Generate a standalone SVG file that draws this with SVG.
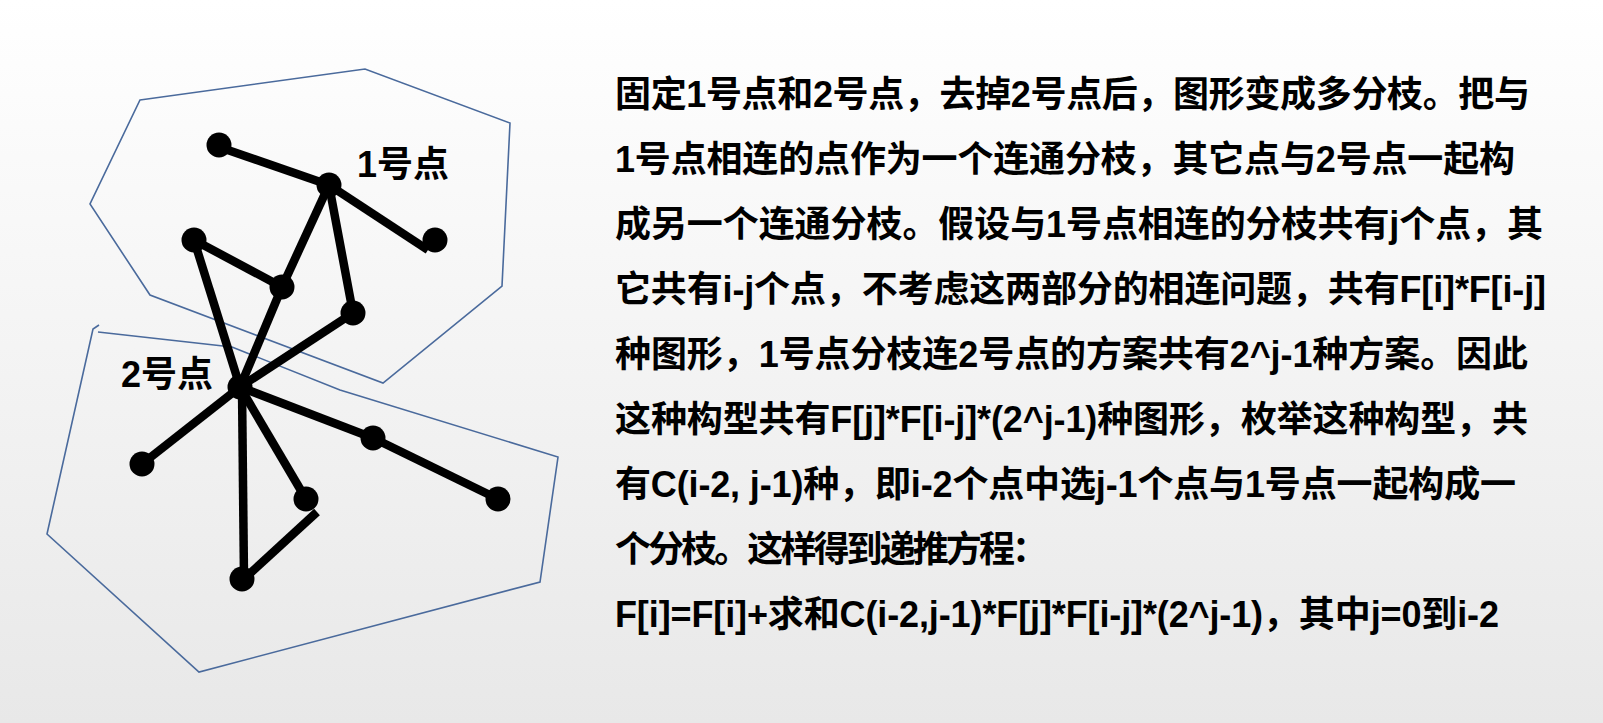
<svg xmlns="http://www.w3.org/2000/svg" width="1603" height="723" viewBox="0 0 1603 723">
<defs>
<linearGradient id="bg" x1="0" y1="0" x2="0" y2="1">
<stop offset="0" stop-color="#ffffff"/>
<stop offset="1" stop-color="#e8e8e8"/>
</linearGradient>
<style>
.region{fill:none;stroke:#4a6a9c;stroke-width:1.6;stroke-linejoin:miter}
.edge{stroke:#000;stroke-width:8.5;stroke-linecap:butt}
.node{fill:#000}
.t{font-family:"Liberation Sans","Noto Sans CJK SC",sans-serif;font-weight:bold;font-size:36px;fill:#000}
</style>
</defs>
<rect width="1603" height="723" fill="url(#bg)"/>
<g id="regions">
<polygon id="region1" class="region" points="140,100 365,69 510,123 502,286 383,383 150,295 90,204"/>
<polyline id="region2" class="region" points="99,325 93,329 47,534 199,672 540,582 558,457 340,390 232,347 98,332"/>
</g>
<g id="connectors">
<line class="edge" x1="219" y1="147" x2="329" y2="185"/>
<line class="edge" x1="329" y1="185" x2="428" y2="250"/>
<line class="edge" x1="329" y1="185" x2="282" y2="287"/>
<line class="edge" x1="329" y1="185" x2="353" y2="313"/>
<line class="edge" x1="194" y1="240" x2="282" y2="287"/>
<line class="edge" x1="194" y1="240" x2="240" y2="387"/>
<line class="edge" x1="282" y1="287" x2="240" y2="387"/>
<line class="edge" x1="353" y1="313" x2="240" y2="387"/>
<line class="edge" x1="240" y1="387" x2="142" y2="464"/>
<line class="edge" x1="240" y1="387" x2="373" y2="438"/>
<line class="edge" x1="373" y1="438" x2="498" y2="499"/>
<line class="edge" x1="240" y1="387" x2="306" y2="499"/>
<line class="edge" x1="242" y1="387" x2="244" y2="579"/>
<line class="edge" x1="317" y1="512" x2="244" y2="579"/>
</g>
<g id="n1"><circle class="node" cx="219" cy="145" r="12.5"/></g>
<g id="n2"><circle class="node" cx="329" cy="185" r="12.5"/></g>
<g id="n3"><circle class="node" cx="435" cy="240" r="12.5"/></g>
<g id="n4"><circle class="node" cx="194" cy="240" r="12.5"/></g>
<g id="n5"><circle class="node" cx="282" cy="287" r="12.5"/></g>
<g id="n6"><circle class="node" cx="353" cy="313" r="12.5"/></g>
<g id="n7"><circle class="node" cx="240" cy="387" r="12.5"/></g>
<g id="n8"><circle class="node" cx="142" cy="464" r="12.5"/></g>
<g id="n9"><circle class="node" cx="373" cy="438" r="12.5"/></g>
<g id="n10"><circle class="node" cx="498" cy="499" r="12.5"/></g>
<g id="n11"><circle class="node" cx="306" cy="499" r="12.5"/></g>
<g id="n12"><circle class="node" cx="242" cy="579" r="12.5"/></g>
<g id="labels">
<text class="t" x="357" y="177">1号点</text>
<text class="t" x="121" y="387">2号点</text>
</g>
<g id="description">
<text class="t" x="615" y="107" textLength="915" lengthAdjust="spacing">固定1号点和2号点，去掉2号点后，图形变成多分枝。把与</text>
<text class="t" x="615" y="172" textLength="900" lengthAdjust="spacing">1号点相连的点作为一个连通分枝，其它点与2号点一起构</text>
<text class="t" x="615" y="237" textLength="928" lengthAdjust="spacing">成另一个连通分枝。假设与1号点相连的分枝共有j个点，其</text>
<text class="t" x="615" y="302" textLength="931" lengthAdjust="spacing">它共有i-j个点，不考虑这两部分的相连问题，共有F[i]*F[i-j]</text>
<text class="t" x="615" y="367" textLength="913" lengthAdjust="spacing">种图形，1号点分枝连2号点的方案共有2^j-1种方案。因此</text>
<text class="t" x="615" y="432" textLength="913" lengthAdjust="spacing">这种构型共有F[j]*F[i-j]*(2^j-1)种图形，枚举这种构型，共</text>
<text class="t" x="615" y="497" textLength="901" lengthAdjust="spacing">有C(i-2, j-1)种，即i-2个点中选j-1个点与1号点一起构成一</text>
<text class="t" x="615" y="562" textLength="433" lengthAdjust="spacing">个分枝。这样得到递推方程：</text>
<text class="t" x="615" y="627" textLength="884" lengthAdjust="spacing">F[i]=F[i]+求和C(i-2,j-1)*F[j]*F[i-j]*(2^j-1)，其中j=0到i-2</text>
</g>
</svg>
